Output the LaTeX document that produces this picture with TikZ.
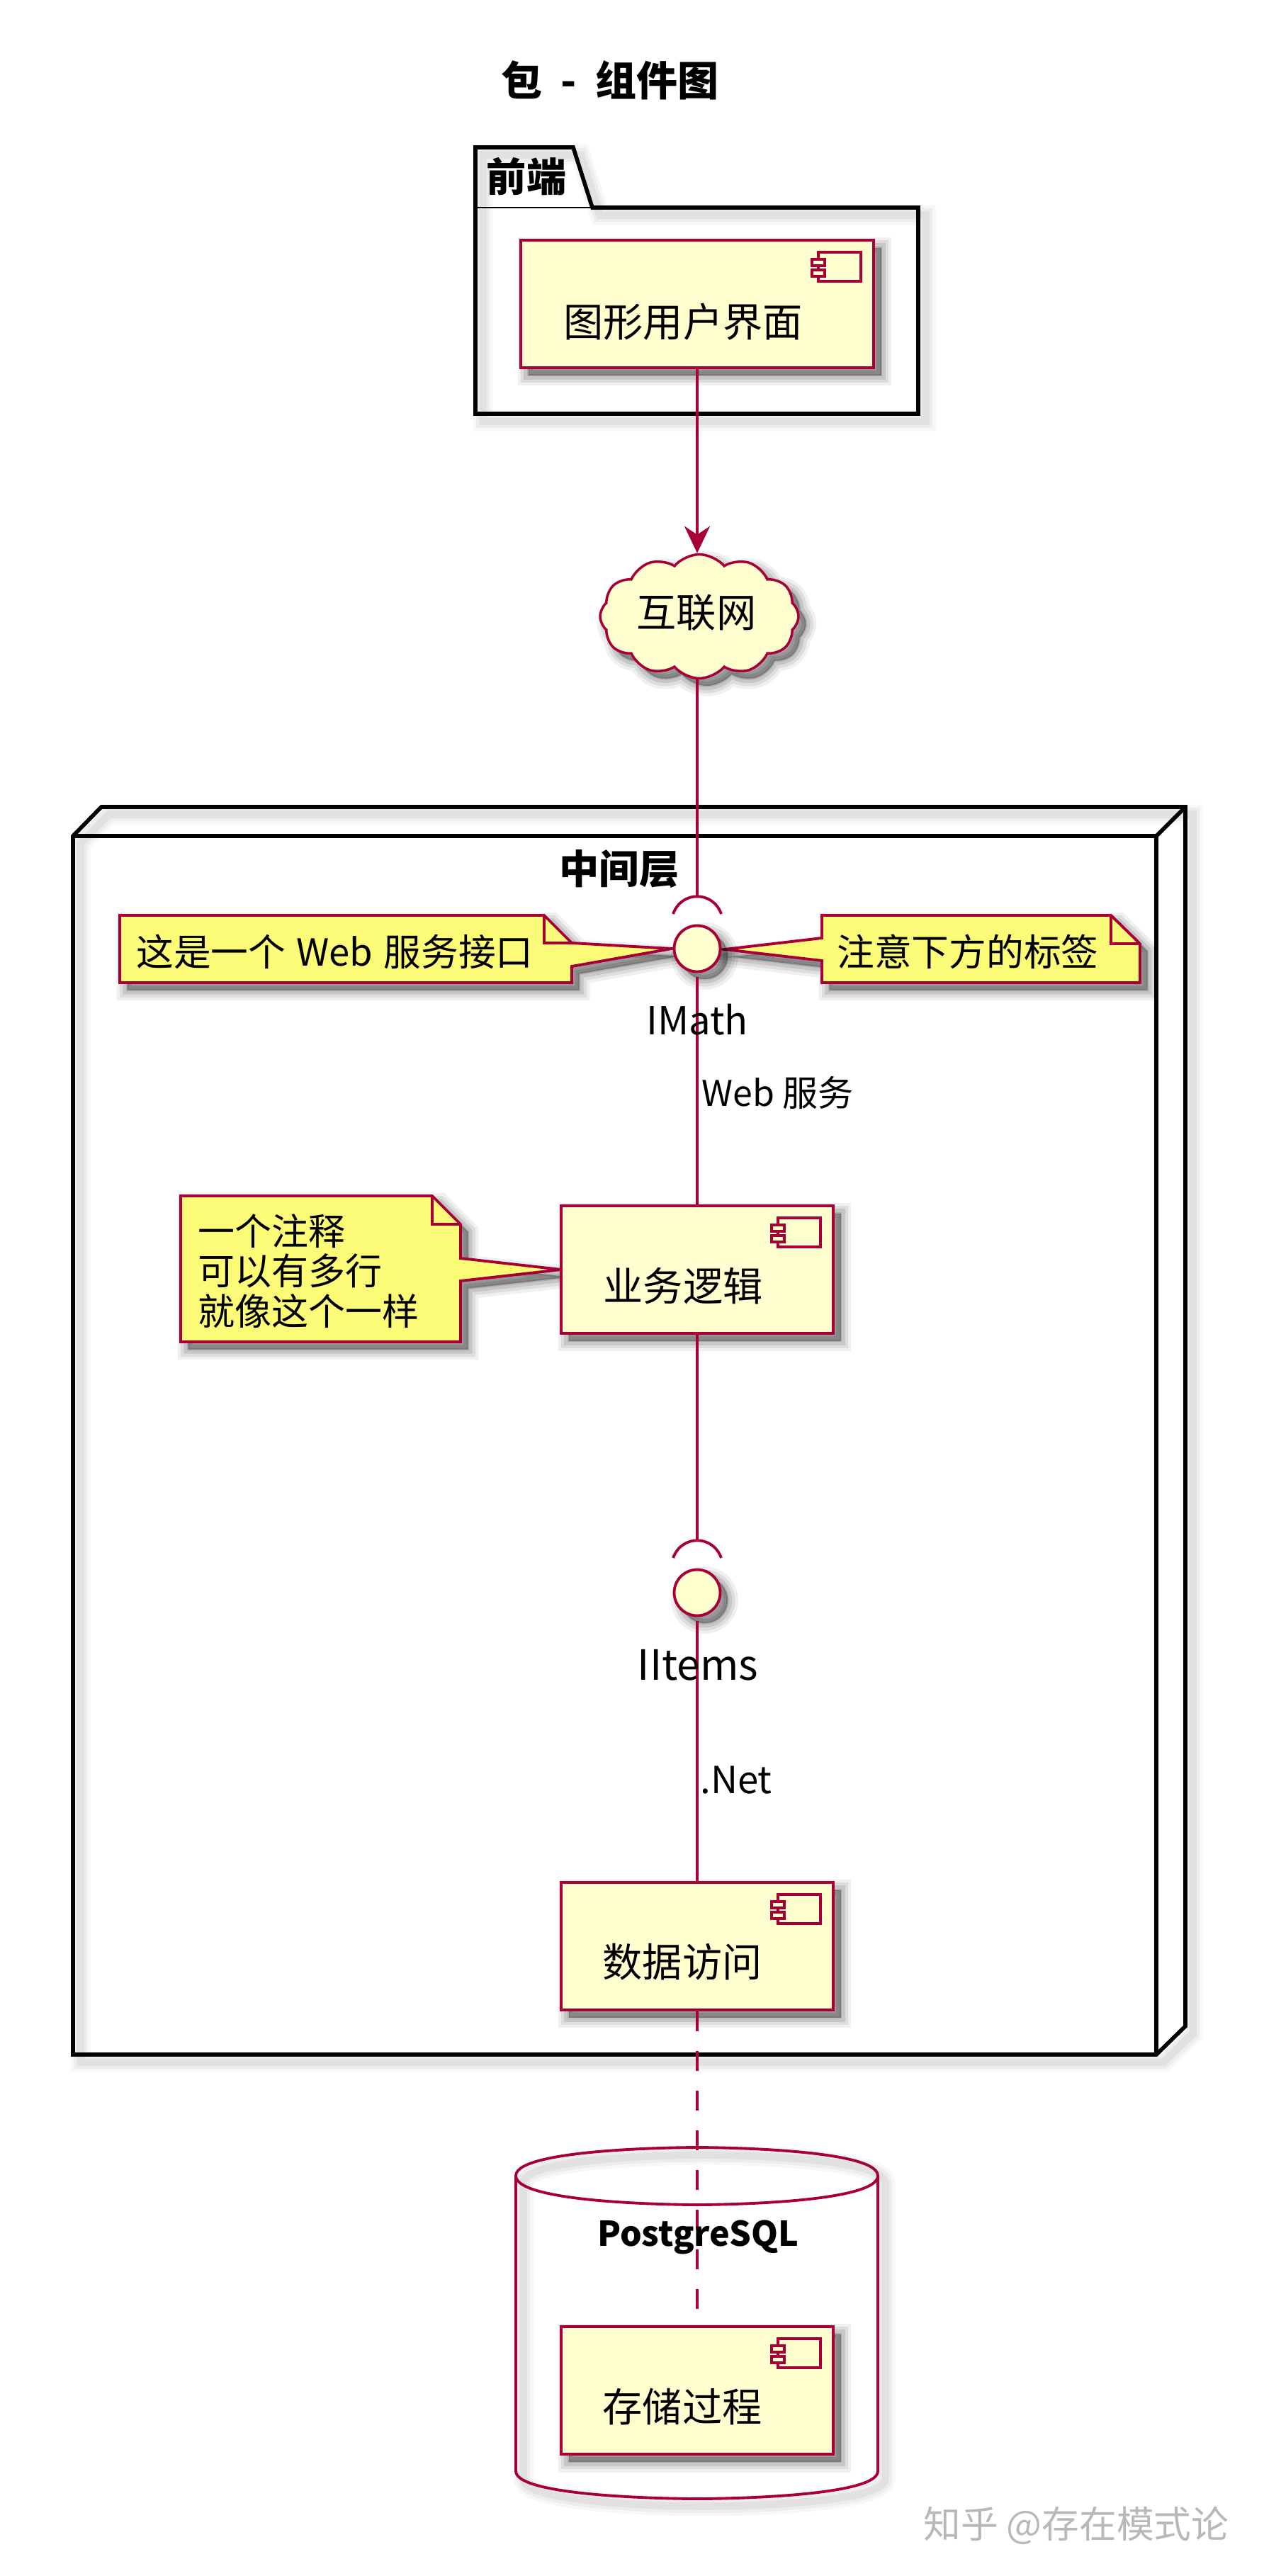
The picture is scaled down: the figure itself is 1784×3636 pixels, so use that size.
\documentclass[tikz,border=0pt]{standalone}
\usepackage{fontspec}
\setmainfont{Noto Sans CJK SC}
\usetikzlibrary{arrows.meta,shapes}
\definecolor{umlline}{HTML}{A80036}
\definecolor{umlfill}{HTML}{FEFECE}
\definecolor{umlnote}{HTML}{FBFB77}
\tikzset{
    softshadow/.style={
        preaction={draw=black,fill=black,opacity=.06,line width=17pt,transform canvas={shift={(6pt,-6pt)}}},
        preaction={draw=black,fill=black,opacity=.08,line width=12pt,transform canvas={shift={(6pt,-6pt)}}},
        preaction={draw=black,fill=black,opacity=.1,line width=7pt,transform canvas={shift={(6pt,-6pt)}}},
        preaction={draw=black,fill=black,opacity=.12,line width=2pt,transform canvas={shift={(6pt,-6pt)}}}},
    lineshadow/.style={
        preaction={draw=black,opacity=.03,line width=16pt,transform canvas={shift={(6pt,-6pt)}}},
        preaction={draw=black,opacity=.04,line width=11pt,transform canvas={shift={(6pt,-6pt)}}},
        preaction={draw=black,opacity=.05,line width=6pt,transform canvas={shift={(6pt,-6pt)}}}},
    container/.style={draw=black,line width=3.2pt,line join=miter,lineshadow},
    comp/.style={draw=umlline,fill=umlfill,line width=2.2pt,softshadow,minimum height=3.6cm,inner sep=0pt},
    iface/.style={circle,draw=umlline,fill=umlfill,line width=2.2pt,softshadow,minimum size=1.3cm,inner sep=0pt},
    note/.style={draw=umlline,fill=umlnote,line width=2.2pt,softshadow},
    link/.style={draw=umlline,line width=2.2pt},
    nametext/.style={font=\fontsize{32}{38}\selectfont},
    notetext/.style={font=\fontsize{30}{32}\selectfont},
    boldtext/.style={font=\fontsize{32}{38}\selectfont\bfseries}
}
\begin{document}
\begin{tikzpicture}[x=0.02cm,y=-0.02cm]
    \useasboundingbox (0,0) rectangle (1784,3636);
    \node[font=\fontsize{33}{40}\selectfont\bfseries] (title) at (861,113) {包\ \ -\ \ 组件图};

    % containers
    \draw[container] (671,208)--(809,208)--(836,293)--(1296,293)--(1296,584)--(671,584)--cycle;
    \draw[black,line width=1.6pt] (671,293)--(836,293);
    \node[boldtext] (frontend) at (743,249) {前端};
    \draw[container] (103,1180)--(143,1139)--(1673,1139)--(1673,2860)--(1632,2900)--(103,2900)--cycle;
    \draw[black,line width=3.2pt] (103,1180)--(1632,1180)--(1632,2900);
    \draw[black,line width=3.2pt] (1632,1180)--(1673,1139);
    \draw[link,lineshadow] (728,3071) .. controls (728,3031) and (984,3031) .. (984,3031)
        .. controls (984,3031) and (1239,3031) .. (1239,3071)
        --(1239,3488) .. controls (1239,3527) and (984,3527) .. (984,3527)
        .. controls (984,3527) and (728,3527) .. (728,3488)--cycle;
    \draw[link] (728,3071) .. controls (728,3112) and (984,3112) .. (984,3112)
        .. controls (984,3112) and (1239,3112) .. (1239,3071);

    % notes
    \draw[note] (169,1292)--(768,1292)--(807,1331)--(948,1339)--(807,1364)--(807,1387)--(169,1387)--cycle;
    \draw[link] (768,1292)--(768,1331)--(807,1331);
    \draw[note] (1160,1292)--(1568,1292)--(1609,1332)--(1609,1387)--(1160,1387)--(1160,1356)--(1023,1340)--(1160,1324)--cycle;
    \draw[link] (1568,1292)--(1568,1332)--(1609,1332);
    \draw[note] (255,1688)--(610,1688)--(650,1728)--(650,1776)--(792,1792)--(650,1808)--(650,1894)--(255,1894)--cycle;
    \draw[link] (610,1688)--(610,1728)--(650,1728);

    % components
    \node[comp,minimum width=9.96cm] (gui) at (984,429) {};
    \node[comp,minimum width=7.68cm] (logic) at (984,1792) {};
    \node[comp,minimum width=7.68cm] (access) at (984,2747) {};
    \node[comp,minimum width=7.68cm] (stored) at (984,3374) {};
    \foreach \c in {gui,logic,access,stored}{
        \draw[link,fill=umlfill] ([shift={(-80,19)}]\c.north east) rectangle ([shift={(-20,60)}]\c.north east);
        \draw[link,fill=umlfill] ([shift={(-89,29)}]\c.north east) rectangle ([shift={(-71,38)}]\c.north east);
        \draw[link,fill=umlfill] ([shift={(-89,44)}]\c.north east) rectangle ([shift={(-71,53)}]\c.north east);
    }
    \node[shape=cloud,cloud puffs=12,cloud puff arc=100,aspect=1.6,draw=umlline,fill=umlfill,line width=2pt,softshadow,
        minimum width=5.6cm,minimum height=3.5cm,inner sep=0pt] (net) at (987,870) {};

    % interfaces
    \node[iface] (imath) at (984,1339) {};
    \node[iface] (iitems) at (984,2248) {};
    \coordinate (imathtop) at (984,1265);
    \coordinate (iitemstop) at (984,2174);
    \draw[link] (950,1290) .. controls (962,1257) and (1006,1257) .. (1018,1290);
    \draw[link] (950,2199) .. controls (962,2166) and (1006,2166) .. (1018,2199);

    % connectors
    \draw[link,-{Stealth[length=38*0.02cm,width=36*0.02cm,inset=12*0.02cm]}] (gui.south)--(gui.south|-net.north);
    \draw[link] (imathtop|-net.south)--(imathtop);
    \draw[link,shorten <=6*0.02cm] (imath.south)--(logic.north);
    \draw[link] (logic.south)--(iitemstop);
    \draw[link,shorten <=6*0.02cm] (iitems.south)--(access.north);
    \draw[link,dash pattern=on 28*0.02cm off 28*0.02cm] (access.south)--(stored.north);

    % texts
    \node[nametext] (guitext) at (964,454) {图形用户界面};
    \node[nametext] (nettext) at (983,865) {互联网};
    \node[boldtext] (middle) at (874,1226) {中间层};
    \node[notetext,anchor=west,inner sep=0pt] (leftnote) at (192,1343) {这是一个\ \kern2pt Web\ \kern2pt 服务接口};
    \node[notetext] (rightnote) at (1366,1343) {注意下方的标签};
    \node[nametext,font=\fontsize{31}{38}\selectfont] (imathtext) at (984,1439) {IMath};
    \node[font=\fontsize{28.5}{32}\selectfont,anchor=west,inner sep=0pt] (webtext) at (990,1542) {Web 服务};
    \node[font=\fontsize{29.6}{32}\selectfont,anchor=west,inner sep=0pt,align=left] (sidenote) at (279,1794) {一个注释\\可以有多行\\就像这个一样};
    \node[nametext] (logictext) at (964,1815) {业务逻辑};
    \node[nametext,font=\fontsize{33.5}{38}\selectfont] (iitemstext) at (985,2350) {IItems};
    \node[notetext,anchor=west,inner sep=0pt] (nettag) at (988,2512) {.Net};
    \node[nametext] (accesstext) at (963,2769) {数据访问};
    \node[font=\fontsize{27.5}{38}\selectfont\bfseries] (pgtext) at (985,3158) {PostgreSQL};
    \node[nametext] (storedtext) at (963,3397) {存储过程};
    \node[font=\fontsize{30}{36}\selectfont,text=black!28] (mark) at (1519,3565) {知乎 @存在模式论};
\end{tikzpicture}
\end{document}
